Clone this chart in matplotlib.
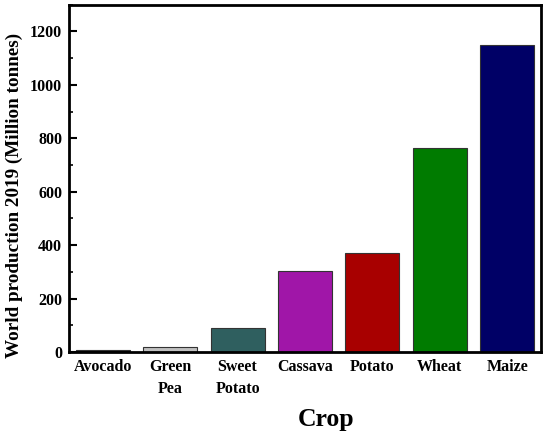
import matplotlib
matplotlib.use('Agg')
import matplotlib.pyplot as plt
from matplotlib.ticker import MultipleLocator

# crop production values (million tonnes)
crops = ['Avocado', 'Green\nPea', 'Sweet\nPotato', 'Cassava', 'Potato', 'Wheat', 'Maize']
production = [8, 20, 91, 304, 369, 765, 1149]
colours = ['#000000', '#c0c0c0', '#2f5f5f', '#a016a8', '#a80000', '#007b00', '#000066']

plt.rcParams['font.family'] = ['Liberation Serif', 'DejaVu Serif']
plt.rcParams['font.weight'] = 'bold'

fig = plt.figure(figsize=(5.5, 4.34), dpi=100)
ax = fig.add_axes([0.1255, 0.189, 0.858, 0.8])

x = range(len(crops))
ax.bar(x, production, width=0.8, color=colours, edgecolor='#333333', linewidth=0.8)

ax.set_xlim(-0.5, 6.5)
ax.set_ylim(0, 1300)
ax.set_xticks(list(x))
ax.set_xticklabels(crops, fontsize=11.5, fontweight='bold', linespacing=1.5)
ax.yaxis.set_major_locator(MultipleLocator(200))
ax.yaxis.set_minor_locator(MultipleLocator(100))
ax.tick_params(axis='y', which='major', direction='in', length=6, width=1.5, labelsize=11.5, pad=5)
ax.tick_params(axis='y', which='minor', direction='in', length=3, width=1.2)
ax.tick_params(axis='x', length=0, pad=5)
for lbl in ax.get_yticklabels():
    lbl.set_fontweight('bold')

for s in ax.spines.values():
    s.set_linewidth(2)

ax.set_ylabel('World production 2019 (Million tonnes)', fontsize=13.8, fontweight='bold')
ax.yaxis.set_label_coords(-0.097, 0.45)
ax.set_xlabel('Crop', fontsize=18.5, fontweight='bold')
ax.xaxis.set_label_coords(0.545, -0.162)

fig.savefig('out.png', dpi=100)
